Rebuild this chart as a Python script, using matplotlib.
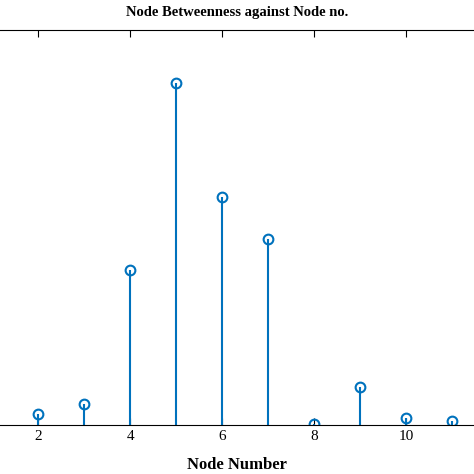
import matplotlib
matplotlib.use("Agg")
import matplotlib.pyplot as plt

nodes = [1, 2, 3, 4, 5, 6, 7, 8, 9, 10, 11]
betweenness = [0, 11, 21, 155, 342, 228, 186, 1, 38, 7, 4]

fig = plt.figure(figsize=(4.74, 4.74), dpi=100)
ax = fig.add_axes([0, 0.103, 1, 0.834])
c = '#0072BD'
ml, sl, bl = ax.stem(nodes, betweenness, basefmt=' ')
plt.setp(sl, color=c, linewidth=1.5)
plt.setp(ml, color=c, marker='o', markerfacecolor='none', markersize=7, markeredgewidth=1.5)
ax.set_xlim(1.17, 11.48)
ax.set_ylim(0, 395)
ax.set_xticks([2, 4, 6, 8, 10])
ax.set_yticks([])
ax.spines['left'].set_visible(False)
ax.spines['right'].set_visible(False)
ax.tick_params(axis='x', direction='in', top=True, labelsize=11, length=5)
for lab in ax.get_xticklabels():
    lab.set_family('Liberation Serif')
ax.set_xlabel('Node Number', fontfamily='Liberation Serif', fontweight='bold', fontsize=12, labelpad=10)
ax.set_title('Node Betweenness against Node no.', fontfamily='Liberation Serif', fontweight='bold', fontsize=10.5, pad=10)
fig.savefig('out.png', dpi=100)
